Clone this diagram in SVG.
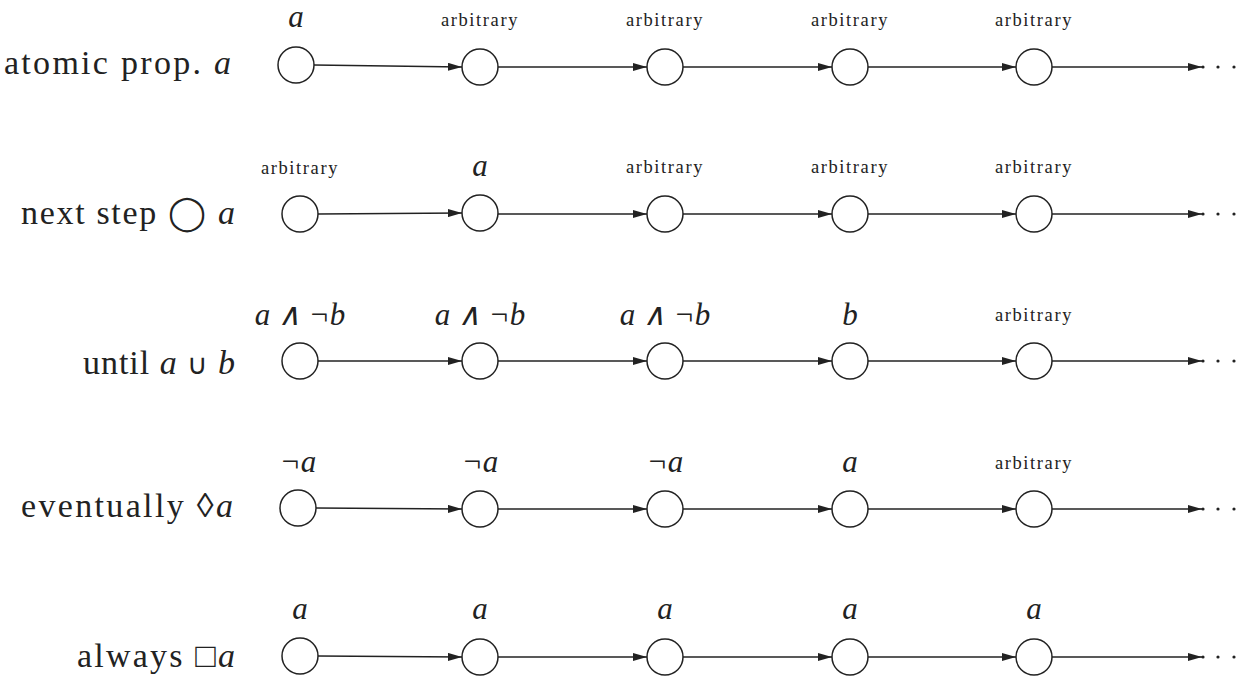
<svg xmlns="http://www.w3.org/2000/svg" width="1250" height="690" viewBox="0 0 1250 690">
<style>
.n{fill:#fff;stroke:#222;stroke-width:1.5}
.e{stroke:#222;stroke-width:1.4;fill:none;marker-end:url(#ah)}
.m{font-family:"Liberation Serif",serif;font-style:italic;font-size:31px;fill:#222;text-anchor:middle}
.s{font-family:"Liberation Serif",serif;font-size:18.5px;letter-spacing:1.6px;fill:#222;text-anchor:middle}
.r{font-family:"Liberation Serif",serif;font-size:34px;fill:#222;text-anchor:end}
.i{font-style:italic}
</style>
<defs><marker id="ah" markerWidth="14" markerHeight="8" refX="14" refY="4" orient="auto" markerUnits="userSpaceOnUse"><path d="M0,0L14,4L0,8z" fill="#222"/></marker></defs>
<rect width="1250" height="690" fill="#fff"/>
<g id="labels">
<text class="r" x="231" y="74" textLength="227" lengthAdjust="spacing">atomic prop. <tspan class="i">a</tspan></text>
<text class="r" x="235" y="224" textLength="214" lengthAdjust="spacing">next step ◯ <tspan class="i">a</tspan></text>
<text class="r" x="235" y="374" textLength="152" lengthAdjust="spacing">until <tspan class="i">a</tspan> <tspan font-family="DejaVu Sans" font-size="28">∪</tspan> <tspan class="i">b</tspan></text>
<text class="r" x="233" y="517" textLength="212" lengthAdjust="spacing">eventually ◊<tspan class="i">a</tspan></text>
<text class="r" x="235" y="667" textLength="158" lengthAdjust="spacing">always □<tspan class="i">a</tspan></text>
</g>
<g id="edges">
<path class="e" d="M314,65L462,67"/><path class="e" d="M498,67L647,67"/><path class="e" d="M683,67L832,67"/><path class="e" d="M868,67L1016,67"/><path class="e" d="M1052,67L1202,67"/>
<path class="e" d="M318,214L462,213"/><path class="e" d="M498,214L647,214"/><path class="e" d="M683,214L832,214"/><path class="e" d="M868,214L1016,214"/><path class="e" d="M1052,214L1202,214"/>
<path class="e" d="M318,361L462,361"/><path class="e" d="M498,361L647,361"/><path class="e" d="M683,361L832,361"/><path class="e" d="M868,361L1016,361"/><path class="e" d="M1052,361L1202,361"/>
<path class="e" d="M316,508L462,509"/><path class="e" d="M498,509L647,509"/><path class="e" d="M683,509L832,509"/><path class="e" d="M868,509L1016,509"/><path class="e" d="M1052,509L1202,509"/>
<path class="e" d="M318,656L462,657"/><path class="e" d="M498,657L647,657"/><path class="e" d="M683,657L832,657"/><path class="e" d="M868,657L1016,657"/><path class="e" d="M1052,657L1202,657"/>
</g>
<g id="dots" fill="#222">
<circle cx="1203" cy="67" r="1.6"/><circle cx="1218" cy="67" r="1.6"/><circle cx="1234" cy="67" r="1.6"/>
<circle cx="1203" cy="214" r="1.6"/><circle cx="1218" cy="214" r="1.6"/><circle cx="1234" cy="214" r="1.6"/>
<circle cx="1203" cy="361" r="1.6"/><circle cx="1218" cy="361" r="1.6"/><circle cx="1234" cy="361" r="1.6"/>
<circle cx="1203" cy="509" r="1.6"/><circle cx="1218" cy="509" r="1.6"/><circle cx="1234" cy="509" r="1.6"/>
<circle cx="1203" cy="657" r="1.6"/><circle cx="1218" cy="657" r="1.6"/><circle cx="1234" cy="657" r="1.6"/>
</g>
<g id="row1">
<g id="n11"><circle class="n" cx="296" cy="65" r="18"/><text class="m" x="296" y="27">a</text></g>
<g id="n12"><circle class="n" cx="480" cy="67" r="18"/><text class="s" x="480" y="26">arbitrary</text></g>
<g id="n13"><circle class="n" cx="665" cy="67" r="18"/><text class="s" x="665" y="26">arbitrary</text></g>
<g id="n14"><circle class="n" cx="850" cy="67" r="18"/><text class="s" x="850" y="26">arbitrary</text></g>
<g id="n15"><circle class="n" cx="1034" cy="67" r="18"/><text class="s" x="1034" y="26">arbitrary</text></g>
</g>
<g id="row2">
<g id="n21"><circle class="n" cx="300" cy="214" r="18"/><text class="s" x="300" y="174">arbitrary</text></g>
<g id="n22"><circle class="n" cx="480" cy="213" r="18"/><text class="m" x="480" y="176">a</text></g>
<g id="n23"><circle class="n" cx="665" cy="214" r="18"/><text class="s" x="665" y="173">arbitrary</text></g>
<g id="n24"><circle class="n" cx="850" cy="214" r="18"/><text class="s" x="850" y="173">arbitrary</text></g>
<g id="n25"><circle class="n" cx="1034" cy="214" r="18"/><text class="s" x="1034" y="173">arbitrary</text></g>
</g>
<g id="row3">
<g id="n31"><circle class="n" cx="300" cy="361" r="18"/><text class="m" x="300" y="325">a ∧ ¬b</text></g>
<g id="n32"><circle class="n" cx="480" cy="361" r="18"/><text class="m" x="480" y="325">a ∧ ¬b</text></g>
<g id="n33"><circle class="n" cx="665" cy="361" r="18"/><text class="m" x="665" y="325">a ∧ ¬b</text></g>
<g id="n34"><circle class="n" cx="850" cy="361" r="18"/><text class="m" x="850" y="325">b</text></g>
<g id="n35"><circle class="n" cx="1034" cy="361" r="18"/><text class="s" x="1034" y="321">arbitrary</text></g>
</g>
<g id="row4">
<g id="n41"><circle class="n" cx="298" cy="508" r="18"/><text class="m" x="298" y="472">¬a</text></g>
<g id="n42"><circle class="n" cx="480" cy="509" r="18"/><text class="m" x="480" y="472">¬a</text></g>
<g id="n43"><circle class="n" cx="665" cy="509" r="18"/><text class="m" x="665" y="472">¬a</text></g>
<g id="n44"><circle class="n" cx="850" cy="509" r="18"/><text class="m" x="850" y="472">a</text></g>
<g id="n45"><circle class="n" cx="1034" cy="509" r="18"/><text class="s" x="1034" y="469">arbitrary</text></g>
</g>
<g id="row5">
<g id="n51"><circle class="n" cx="300" cy="656" r="18"/><text class="m" x="300" y="619">a</text></g>
<g id="n52"><circle class="n" cx="480" cy="657" r="18"/><text class="m" x="480" y="619">a</text></g>
<g id="n53"><circle class="n" cx="665" cy="657" r="18"/><text class="m" x="665" y="619">a</text></g>
<g id="n54"><circle class="n" cx="850" cy="657" r="18"/><text class="m" x="850" y="619">a</text></g>
<g id="n55"><circle class="n" cx="1034" cy="657" r="18"/><text class="m" x="1034" y="619">a</text></g>
</g>
</svg>
